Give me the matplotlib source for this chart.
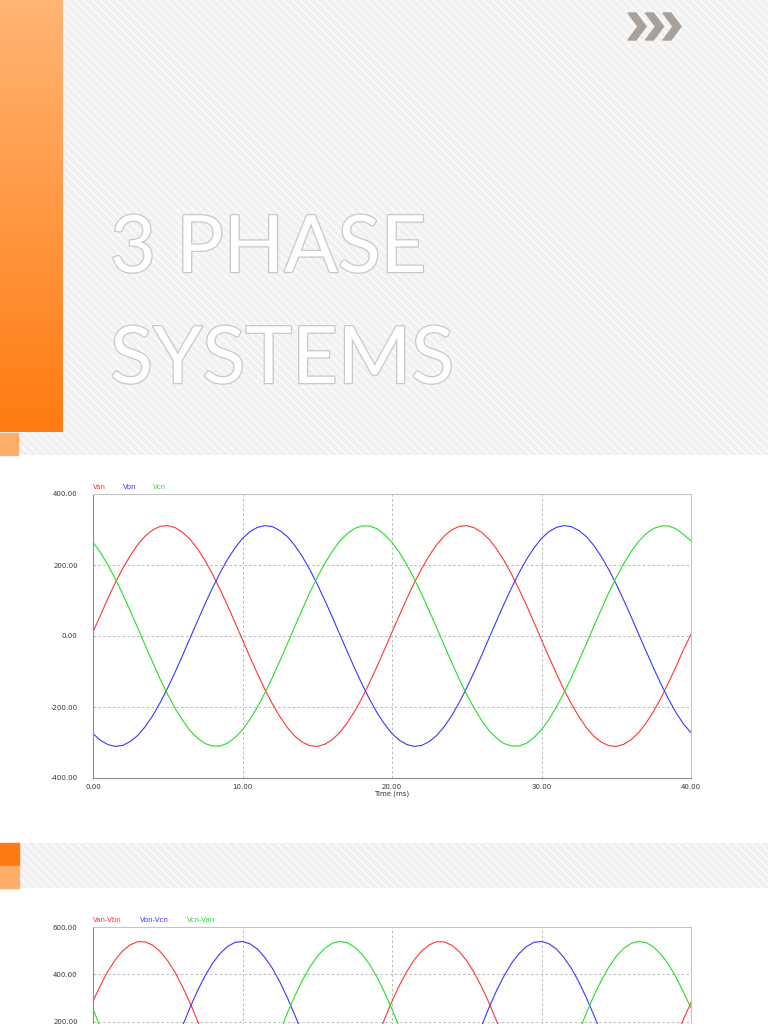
import matplotlib
matplotlib.use("Agg")
import numpy as np
import matplotlib.pyplot as plt
from matplotlib.patches import Rectangle, Polygon
import matplotlib.patheffects as pe

# sample times (ms), one reading every half millisecond
time_ms = np.arange(0, 40.5, 0.5)

# phase voltages
van = [11, 59, 106, 151, 191, 227, 258, 282, 299, 309, 311, 305, 292, 272, 245, 212, 174, 131, 86, 38,
       -11, -59, -106, -151, -191, -227, -258, -282, -299, -309, -311, -305, -292, -272, -245, -212, -174, -131, -86, -38,
       11, 59, 106, 151, 191, 227, 258, 282, 299, 309, 311, 305, 292, 272, 245, 212, 174, 131, 86, 38,
       -11, -59, -106, -151, -191, -227, -258, -282, -299, -309, -311, -305, -292, -272, -245, -212, -174, -131, -86, -38,
       4]
vbn = [-275, -294, -306, -311, -308, -297, -280, -255, -224, -187, -146, -101, -54, -5, 43, 91, 136, 178, 216, 248,
       275, 294, 306, 311, 308, 297, 280, 255, 224, 187, 146, 101, 54, 5, -43, -91, -136, -178, -216, -248,
       -275, -294, -306, -311, -308, -297, -280, -255, -224, -187, -146, -101, -54, -5, 43, 91, 136, 178, 216, 248,
       275, 294, 306, 311, 308, 297, 280, 255, 224, 187, 146, 101, 54, 5, -43, -91, -136, -178, -216, -248,
       -272]
vcn = [264, 235, 200, 160, 117, 70, 22, -27, -75, -122, -165, -204, -238, -267, -288, -303, -310, -310, -302, -286,
       -264, -235, -200, -160, -117, -70, -22, 27, 75, 122, 165, 204, 238, 267, 288, 303, 310, 310, 302, 286,
       264, 235, 200, 160, 117, 70, 22, -27, -75, -122, -165, -204, -238, -267, -288, -303, -310, -310, -302, -286,
       -264, -235, -200, -160, -117, -70, -22, 27, 75, 122, 165, 204, 238, 267, 288, 303, 310, 310, 302, 286,
       268]

# line voltages
vab = [286, 354, 413, 462, 500, 525, 538, 537, 523, 496, 457, 407, 346, 278, 202, 121, 38, -47, -130, -211,
       -286, -354, -413, -462, -500, -525, -538, -537, -523, -496, -457, -407, -346, -278, -202, -121, -38, 47, 130, 211,
       286, 354, 413, 462, 500, 525, 538, 537, 523, 496, 457, 407, 346, 278, 202, 121, 38, -47, -130, -211,
       -286, -354, -413, -462, -500, -525, -538, -537, -523, -496, -457, -407, -346, -278, -202, -121, -38, 47, 130, 211,
       280]
vbc = [-539, -529, -507, -471, -425, -368, -301, -228, -149, -66, 19, 103, 184, 261, 332, 394, 447, 488, 518, 535,
       539, 529, 507, 471, 425, 368, 301, 228, 149, 66, -19, -103, -184, -261, -332, -394, -447, -488, -518, -535,
       -539, -529, -507, -471, -425, -368, -301, -228, -149, -66, 19, 103, 184, 261, 332, 394, 447, 488, 518, 535,
       539, 529, 507, 471, 425, 368, 301, 228, 149, 66, -19, -103, -184, -261, -332, -394, -447, -488, -518, -535,
       -539]
vca = [253, 175, 94, 9, -75, -158, -236, -309, -374, -430, -476, -510, -531, -539, -534, -515, -484, -442, -388, -324,
       -253, -175, -94, -9, 75, 158, 236, 309, 374, 430, 476, 510, 531, 539, 534, 515, 484, 442, 388, 324,
       253, 175, 94, 9, -75, -158, -236, -309, -374, -430, -476, -510, -531, -539, -534, -515, -484, -442, -388, -324,
       -253, -175, -94, -9, 75, 158, 236, 309, 374, 430, 476, 510, 531, 539, 534, 515, 484, 442, 388, 324,
       258]

phase_labels = ["Van", "Vbn", "Vcn"]
line_labels = ["Van-Vbn", "Vbn-Vcn", "Vcn-Van"]
x_ticks = [0, 10, 20, 30, 40]
y_ticks_top = [-400, -200, 0, 200, 400]
y_ticks_bottom = [-600, -400, -200, 0, 200, 400, 600]

RED, BLUE, GREEN = "#ff3535", "#3838ff", "#26dd26"
ORANGE_LIGHT, ORANGE_DARK = "#ffae6a", "#ff7b12"

fig = plt.figure(figsize=(7.68, 10.24), dpi=100)
fig.patch.set_facecolor("white")

# slide background, drawn in pixel units
bg = fig.add_axes([0, 0, 1, 1])
bg.axis("off")

bg.add_patch(Rectangle((0, 0), 768, 455, facecolor="#f1f1f1", edgecolor="#fdfdfd",
                       hatch="\\\\\\\\", lw=0))
grad = np.linspace(0, 1, 256)[:, None, None]
c0 = np.array(matplotlib.colors.to_rgb("#ffb574"))
c1 = np.array(matplotlib.colors.to_rgb(ORANGE_DARK))
bg.imshow(c0 + (c1 - c0) * grad, extent=(0, 63, 432, 0), aspect="auto", zorder=2)
bg.add_patch(Rectangle((0, 433), 18, 22, color=ORANGE_LIGHT, zorder=2))

bg.add_patch(Rectangle((20, 843), 748, 45, facecolor="#f1f1f1", edgecolor="#fdfdfd",
                       hatch="\\\\\\\\", lw=0))
bg.add_patch(Rectangle((0, 843), 19, 22, color=ORANGE_DARK))
bg.add_patch(Rectangle((0, 866), 19, 22, color=ORANGE_LIGHT))

# chevrons top right
for x0 in [628, 645.5, 663]:
    bg.add_patch(Polygon([(x0, 13), (x0 + 8, 13), (x0 + 18, 26.5), (x0 + 8, 40), (x0, 40), (x0 + 10, 26.5)],
                         closed=True, color="#a8a09a", zorder=3))

bg.set_xlim(0, 768)
bg.set_ylim(1024, 0)

title_fx = [pe.withStroke(linewidth=1.8, foreground="#c8c8c8")]
for txt, yb in [("3 PHASE", 272), ("SYSTEMS", 383)]:
    bg.text(110, yb, txt, fontsize=57, family="Lato", color="white",
            va="baseline", ha="left", path_effects=title_fx, zorder=4)


def style_chart(ax, yticks, ylim):
    ax.set_xlim(0, 40)
    ax.set_ylim(*ylim)
    ax.set_xticks(x_ticks)
    ax.set_xticklabels([f"{v:.2f}" for v in x_ticks])
    ax.set_yticks(yticks)
    ax.set_yticklabels([f"{v:.2f}" for v in yticks])
    ax.tick_params(axis="both", length=0, labelsize=5, labelcolor="#333333")
    ax.tick_params(axis="y", pad=11)
    ax.tick_params(axis="x", pad=4)
    ax.grid(True, color="#b8b8b8", lw=0.7, linestyle=(0, (2.5, 2.5)))
    ax.set_axisbelow(True)
    for side in ["left", "bottom"]:
        ax.spines[side].set_color("#8c8c8c")
    for side in ["top", "right"]:
        ax.spines[side].set_color("#c4c4c4")
    for sp in ax.spines.values():
        sp.set_linewidth(0.8)


ax1 = fig.add_axes([93 / 768, 1 - 778 / 1024, 598 / 768, 284 / 1024])
for vals, col in zip([van, vbn, vcn], [RED, BLUE, GREEN]):
    ax1.plot(time_ms, vals, color=col, lw=0.8)
style_chart(ax1, y_ticks_top, (-400, 400))
ax1.set_xlabel("Time (ms)", fontsize=5, color="#333333", labelpad=1)
for i, (lab, col) in enumerate(zip(phase_labels, [RED, BLUE, GREEN])):
    ax1.text(i * 0.05, 1.025, lab, color=col, fontsize=5, transform=ax1.transAxes,
             ha="left", va="center")

# lower chart runs past the bottom edge of the slide, as in the source
ax2 = fig.add_axes([93 / 768, 1 - 1211 / 1024, 598 / 768, 284 / 1024])
for vals, col in zip([vab, vbc, vca], [RED, BLUE, GREEN]):
    ax2.plot(time_ms, vals, color=col, lw=0.8)
style_chart(ax2, y_ticks_bottom, (-600, 600))
ax2.tick_params(axis="x", labelbottom=False)
ax2.set_yticklabels(["" if v < 200 else f"{v:.2f}" for v in y_ticks_bottom])
for i, (lab, col) in enumerate(zip(line_labels, [RED, BLUE, GREEN])):
    ax2.text(i * 0.0786, 1.025, lab, color=col, fontsize=5, transform=ax2.transAxes,
             ha="left", va="center")

fig.savefig("out.png", dpi=100)
